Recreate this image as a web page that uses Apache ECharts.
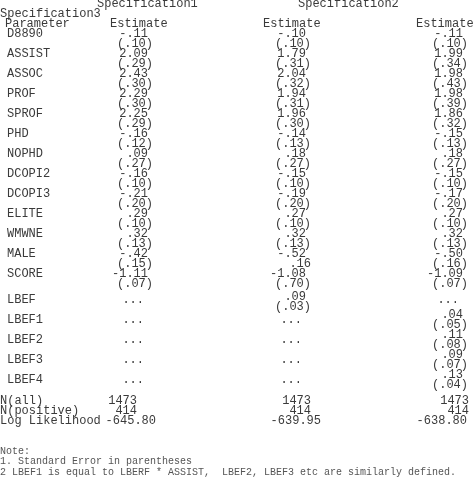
<!DOCTYPE html>
<html><head><meta charset="utf-8">
<script src="https://cdn.jsdelivr.net/npm/echarts@6/dist/echarts.min.js"></script>
<style>html,body{margin:0;padding:0;background:#fff}#c{width:474px;height:478px}</style>
</head><body><div id="c"></div>
<script>
const specNames = ['Specification1','Specification2','Specification3'];
const parameters = ['D8890','ASSIST','ASSOC','PROF','SPROF','PHD','NOPHD','DCOPI2','DCOPI3','ELITE','WMWNE','MALE','SCORE'];
const est1 = ['-.11','2.09','2.43','2.29','2.25','-.16','.09','-.16','-.21','.29','.32','-.42','-1.11'];
const se1  = ['(.10)','(.29)','(.30)','(.30)','(.29)','(.12)','(.27)','(.10)','(.20)','(.10)','(.13)','(.15)','(.07)'];
const est2 = ['-.10','1.79','2.04','1.94','1.96','-.14','.18','-.15','-.19','.27','.32','-.52','-1.08'];
const se2  = ['(.10)','(.31)','(.32)','(.31)','(.30)','(.13)','(.27)','(.10)','(.20)','(.10)','(.13)','.16','(.70)'];
const est3 = ['-.11','1.99','1.98','1.98','1.86','-.15','.18','-.15','-.17','.27','.32','-.50','-1.09'];
const se3  = ['(.10)','(.34)','(.43)','(.39)','(.32)','(.13)','(.27)','(.10)','(.20)','(.10)','(.13)','(.16)','(.07)'];
const lbefNames = ['LBEF','LBEF1','LBEF2','LBEF3','LBEF4'];
const lbef2Est = '.09', lbef2Se = '(.03)';
const lbef3Est = ['.04','.11','.09','.13'];
const lbef3Se  = ['(.05)','(.08)','(.07)','(.04)'];
const statNames = ['N(all)','N(positive)','Log Likelihood'];
const stats1 = ['1473','414','-645.80'];
const stats2 = ['1473','414','-639.95'];
const stats3 = ['1473','414','-638.80'];
const notes = ['Note:','1. Standard Error in parentheses','2 LBEF1 is equal to LBERF * ASSIST,  LBEF2, LBEF3 etc are similarly defined.'];

const FONT = '"Liberation Mono", "DejaVu Sans Mono", monospace';
const COL = '#3a3a3a';
const els = [];
function t(text, x, y, align, size, color) {
  els.push({type:'text', x:x, y:y, style:{text:text, x:0, y:0, fill:color||COL,
    font:(size||12)+'px '+FONT, textAlign:align||'left', textVerticalAlign:'middle'}});
}
const R = [148, 306, 463];
t(specNames[0], 97, 4); t(specNames[1], 298, 4); t(specNames[2], 0, 14);
t('Parameter', 5, 24);
t('Estimate', 110, 24); t('Estimate', 263, 24); t('Estimate', 416, 24);
const E = [est1, est2, est3], S = [se1, se2, se3];
parameters.forEach((p, i) => {
  const y = 34 + i * 20;
  t(p, 7, y);
  for (let c = 0; c < 3; c++) {
    t(E[c][i], R[c], y, 'right');
    t(S[c][i], R[c] + 5, y + 10, 'right');
  }
});
lbefNames.forEach((p, i) => {
  const y = 300 + i * 20;
  t(p, 7, y);
  t('...', R[0] - 4, y, 'right');
  if (i > 0) t('...', R[1] - 4, y, 'right');
  if (i === 0) t('...', R[2] - 4, y, 'right');
});
t(lbef2Est, R[1], 297, 'right'); t(lbef2Se, R[1] + 5, 307, 'right');
lbef3Est.forEach((v, i) => {
  t(v, R[2], 315 + i * 20, 'right');
  t(lbef3Se[i], R[2] + 5, 325 + i * 20, 'right');
});
const ST = [stats1, stats2, stats3];
const NR = [[137, 311, 469], [137, 311, 469], [156, 321, 467]];
statNames.forEach((n, i) => {
  const y = 401 + i * 10;
  t(n, 0, y);
  for (let c = 0; c < 3; c++) t(ST[c][i], NR[i][c], y, 'right');
});
notes.forEach((n, i) => t(n, 0, 451 + i * 10.5, 'left', 10, '#555'));

const chart = echarts.init(document.getElementById('c'));
chart.setOption({backgroundColor:'#fff', animation:false, graphic:{elements:els}});
</script></body></html>
